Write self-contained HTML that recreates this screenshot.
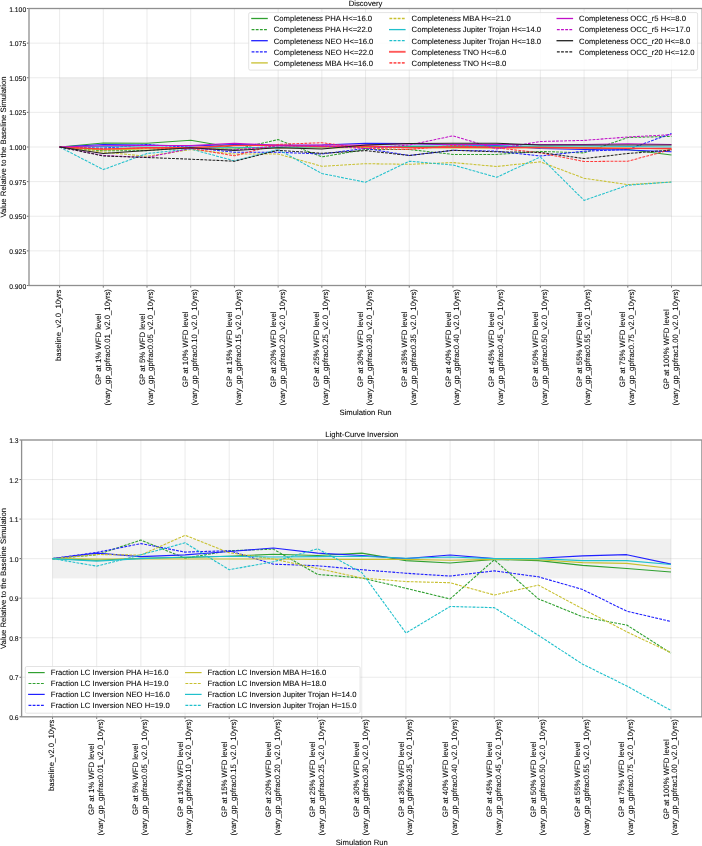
<!DOCTYPE html>
<html><head><meta charset="utf-8"><title>Discovery / Light-Curve Inversion</title>
<style>html,body{margin:0;padding:0;background:#fff;overflow:hidden;width:702px;height:846px;}svg{display:block;}text{stroke:#000;stroke-width:0.16px;stroke-opacity:0.4;text-rendering:geometricPrecision;}</style>
</head><body>
<svg width="702" height="846" viewBox="0 0 702 846" font-family="'Liberation Sans', Arial, Helvetica, sans-serif" fill="#000">
<rect width="702" height="846" fill="#fff"/>
<rect x="29.00" y="8.50" width="673.10" height="277.00" fill="#fff"/>
<rect x="59.60" y="77.75" width="611.91" height="138.50" fill="#f0f0f0"/>
<path d="M59.60 8.50V285.50M103.30 8.50V285.50M147.01 8.50V285.50M190.72 8.50V285.50M234.43 8.50V285.50M278.13 8.50V285.50M321.84 8.50V285.50M365.55 8.50V285.50M409.26 8.50V285.50M452.97 8.50V285.50M496.67 8.50V285.50M540.38 8.50V285.50M584.09 8.50V285.50M627.80 8.50V285.50M671.50 8.50V285.50M29.00 285.50H702.10M29.00 250.88H702.10M29.00 216.25H702.10M29.00 181.62H702.10M29.00 147.00H702.10M29.00 112.38H702.10M29.00 77.75H702.10M29.00 43.13H702.10M29.00 8.50H702.10" stroke="#a8a8a8" stroke-opacity="0.27" stroke-width="0.85" fill="none"/>
<g clip-path="url(#clip1)">
<polyline points="59.60,147.00 103.30,143.10 147.01,143.20 190.72,140.20 234.43,147.80 278.13,147.20 321.84,146.70 365.55,146.50 409.26,146.50 452.97,146.50 496.67,146.50 540.38,147.00 584.09,147.50 627.80,149.50 671.50,154.90" fill="none" stroke="#30a030" stroke-width="1.05" stroke-linejoin="round"/>
<polyline points="59.60,147.00 103.30,150.80 147.01,150.60 190.72,147.80 234.43,149.50 278.13,139.60 321.84,156.90 365.55,149.50 409.26,149.50 452.97,154.40 496.67,154.40 540.38,151.40 584.09,152.90 627.80,137.50 671.50,136.40" fill="none" stroke="#30a030" stroke-width="1.05" stroke-linejoin="round" stroke-dasharray="2.85,1.2"/>
<polyline points="59.60,147.00 103.30,144.40 147.01,145.00 190.72,146.00 234.43,144.40 278.13,145.20 321.84,145.00 365.55,143.20 409.26,143.50 452.97,145.00 496.67,145.50 540.38,148.40 584.09,149.50 627.80,150.00 671.50,151.80" fill="none" stroke="#2020ff" stroke-width="1.05" stroke-linejoin="round"/>
<polyline points="59.60,147.00 103.30,148.20 147.01,144.60 190.72,147.50 234.43,152.30 278.13,152.30 321.84,154.00 365.55,148.40 409.26,155.50 452.97,150.30 496.67,151.20 540.38,156.00 584.09,151.20 627.80,149.50 671.50,133.50" fill="none" stroke="#2020ff" stroke-width="1.05" stroke-linejoin="round" stroke-dasharray="2.85,1.2"/>
<polyline points="59.60,147.00 103.30,150.00 147.01,149.00 190.72,148.50 234.43,148.00 278.13,148.00 321.84,148.00 365.55,147.50 409.26,147.50 452.97,148.00 496.67,148.00 540.38,147.50 584.09,148.00 627.80,148.00 671.50,149.00" fill="none" stroke="#c8c030" stroke-width="1.05" stroke-linejoin="round"/>
<polyline points="59.60,147.00 103.30,152.10 147.01,156.30 190.72,149.60 234.43,154.00 278.13,154.00 321.84,166.30 365.55,163.70 409.26,164.30 452.97,162.60 496.67,166.50 540.38,161.80 584.09,178.30 627.80,184.60 671.50,182.00" fill="none" stroke="#c8c030" stroke-width="1.05" stroke-linejoin="round" stroke-dasharray="2.85,1.2"/>
<polyline points="59.60,147.00 103.30,146.50 147.01,147.00 190.72,147.50 234.43,147.80 278.13,147.20 321.84,146.70 365.55,146.50 409.26,146.00 452.97,146.00 496.67,146.00 540.38,146.00 584.09,146.00 627.80,146.50 671.50,147.00" fill="none" stroke="#20c0cc" stroke-width="1.05" stroke-linejoin="round"/>
<polyline points="59.60,147.00 103.30,169.60 147.01,153.50 190.72,149.00 234.43,160.90 278.13,149.50 321.84,173.50 365.55,182.30 409.26,161.20 452.97,165.00 496.67,177.30 540.38,157.00 584.09,200.40 627.80,185.20 671.50,182.00" fill="none" stroke="#20c0cc" stroke-width="1.05" stroke-linejoin="round" stroke-dasharray="2.85,1.2"/>
<polyline points="59.60,147.00 103.30,149.10 147.01,147.80 190.72,147.80 234.43,145.50 278.13,145.20 321.84,146.50 365.55,146.00 409.26,147.80 452.97,147.20 496.67,147.50 540.38,147.50 584.09,148.00 627.80,148.40 671.50,148.40" fill="none" stroke="#ff3a3a" stroke-width="1.45" stroke-linejoin="round"/>
<polyline points="59.60,147.00 103.30,149.00 147.01,148.00 190.72,148.40 234.43,155.80 278.13,144.40 321.84,142.70 365.55,148.40 409.26,149.50 452.97,145.50 496.67,147.80 540.38,152.90 584.09,161.50 627.80,161.20 671.50,149.50" fill="none" stroke="#ff3a3a" stroke-width="1.05" stroke-linejoin="round" stroke-dasharray="2.85,1.2"/>
<polyline points="59.60,147.00 103.30,145.70 147.01,145.50 190.72,145.50 234.43,143.20 278.13,145.20 321.84,145.00 365.55,145.00 409.26,143.80 452.97,144.50 496.67,144.50 540.38,144.40 584.09,144.40 627.80,143.80 671.50,144.50" fill="none" stroke="#c010c8" stroke-width="1.05" stroke-linejoin="round"/>
<polyline points="59.60,147.00 103.30,155.50 147.01,157.50 190.72,148.40 234.43,150.00 278.13,146.00 321.84,146.00 365.55,148.40 409.26,145.00 452.97,135.80 496.67,148.90 540.38,141.50 584.09,140.40 627.80,137.00 671.50,134.70" fill="none" stroke="#c010c8" stroke-width="1.05" stroke-linejoin="round" stroke-dasharray="2.85,1.2"/>
<polyline points="59.60,147.00 103.30,153.40 147.01,150.60 190.72,147.80 234.43,150.60 278.13,147.80 321.84,149.00 365.55,145.00 409.26,143.50 452.97,143.20 496.67,143.20 540.38,145.00 584.09,145.00 627.80,145.00 671.50,145.00" fill="none" stroke="#222222" stroke-width="1.05" stroke-linejoin="round"/>
<polyline points="59.60,147.00 103.30,156.00 147.01,157.50 190.72,159.20 234.43,161.20 278.13,150.30 321.84,153.30 365.55,150.60 409.26,155.50 452.97,150.30 496.67,151.80 540.38,152.40 584.09,158.60 627.80,153.50 671.50,150.00" fill="none" stroke="#222222" stroke-width="1.05" stroke-linejoin="round" stroke-dasharray="2.85,1.2"/>
</g>
<rect x="29.00" y="8.50" width="673.10" height="277.00" fill="none" stroke="#8f8f8f" stroke-width="1.3"/>
<path d="M59.60 286.10V287.60M103.30 286.10V287.60M147.01 286.10V287.60M190.72 286.10V287.60M234.43 286.10V287.60M278.13 286.10V287.60M321.84 286.10V287.60M365.55 286.10V287.60M409.26 286.10V287.60M452.97 286.10V287.60M496.67 286.10V287.60M540.38 286.10V287.60M584.09 286.10V287.60M627.80 286.10V287.60M671.50 286.10V287.60M28.40 285.50H26.90M28.40 250.88H26.90M28.40 216.25H26.90M28.40 181.62H26.90M28.40 147.00H26.90M28.40 112.38H26.90M28.40 77.75H26.90M28.40 43.13H26.90M28.40 8.50H26.90" stroke="#444" stroke-width="0.8" fill="none"/>
<text x="26.20" y="288.50" font-size="6.80" text-anchor="end">0.900</text>
<text x="26.20" y="253.88" font-size="6.80" text-anchor="end">0.925</text>
<text x="26.20" y="219.25" font-size="6.80" text-anchor="end">0.950</text>
<text x="26.20" y="184.62" font-size="6.80" text-anchor="end">0.975</text>
<text x="26.20" y="150.00" font-size="6.80" text-anchor="end">1.000</text>
<text x="26.20" y="115.38" font-size="6.80" text-anchor="end">1.025</text>
<text x="26.20" y="80.75" font-size="6.80" text-anchor="end">1.050</text>
<text x="26.20" y="46.13" font-size="6.80" text-anchor="end">1.075</text>
<text x="26.20" y="11.50" font-size="6.80" text-anchor="end">1.100</text>
<text transform="translate(60.80 325.27) rotate(-90)" font-size="7.80" text-anchor="middle">baseline_v2.0_10yrs</text>
<text transform="translate(100.90 349.32) rotate(-90)" font-size="7.80" text-anchor="middle">GP at 1% WFD level</text>
<text transform="translate(109.70 347.32) rotate(-90)" font-size="7.80" text-anchor="middle">(vary_gp_gpfrac0.01_v2.0_10yrs)</text>
<text transform="translate(144.61 349.32) rotate(-90)" font-size="7.80" text-anchor="middle">GP at 5% WFD level</text>
<text transform="translate(153.41 347.32) rotate(-90)" font-size="7.80" text-anchor="middle">(vary_gp_gpfrac0.05_v2.0_10yrs)</text>
<text transform="translate(188.32 349.32) rotate(-90)" font-size="7.80" text-anchor="middle">GP at 10% WFD level</text>
<text transform="translate(197.12 347.32) rotate(-90)" font-size="7.80" text-anchor="middle">(vary_gp_gpfrac0.10_v2.0_10yrs)</text>
<text transform="translate(232.03 349.32) rotate(-90)" font-size="7.80" text-anchor="middle">GP at 15% WFD level</text>
<text transform="translate(240.83 347.32) rotate(-90)" font-size="7.80" text-anchor="middle">(vary_gp_gpfrac0.15_v2.0_10yrs)</text>
<text transform="translate(275.73 349.32) rotate(-90)" font-size="7.80" text-anchor="middle">GP at 20% WFD level</text>
<text transform="translate(284.53 347.32) rotate(-90)" font-size="7.80" text-anchor="middle">(vary_gp_gpfrac0.20_v2.0_10yrs)</text>
<text transform="translate(319.44 349.32) rotate(-90)" font-size="7.80" text-anchor="middle">GP at 25% WFD level</text>
<text transform="translate(328.24 347.32) rotate(-90)" font-size="7.80" text-anchor="middle">(vary_gp_gpfrac0.25_v2.0_10yrs)</text>
<text transform="translate(363.15 349.32) rotate(-90)" font-size="7.80" text-anchor="middle">GP at 30% WFD level</text>
<text transform="translate(371.95 347.32) rotate(-90)" font-size="7.80" text-anchor="middle">(vary_gp_gpfrac0.30_v2.0_10yrs)</text>
<text transform="translate(406.86 349.32) rotate(-90)" font-size="7.80" text-anchor="middle">GP at 35% WFD level</text>
<text transform="translate(415.66 347.32) rotate(-90)" font-size="7.80" text-anchor="middle">(vary_gp_gpfrac0.35_v2.0_10yrs)</text>
<text transform="translate(450.57 349.32) rotate(-90)" font-size="7.80" text-anchor="middle">GP at 40% WFD level</text>
<text transform="translate(459.37 347.32) rotate(-90)" font-size="7.80" text-anchor="middle">(vary_gp_gpfrac0.40_v2.0_10yrs)</text>
<text transform="translate(494.27 349.32) rotate(-90)" font-size="7.80" text-anchor="middle">GP at 45% WFD level</text>
<text transform="translate(503.07 347.32) rotate(-90)" font-size="7.80" text-anchor="middle">(vary_gp_gpfrac0.45_v2.0_10yrs)</text>
<text transform="translate(537.98 349.32) rotate(-90)" font-size="7.80" text-anchor="middle">GP at 50% WFD level</text>
<text transform="translate(546.78 347.32) rotate(-90)" font-size="7.80" text-anchor="middle">(vary_gp_gpfrac0.50_v2.0_10yrs)</text>
<text transform="translate(581.69 349.32) rotate(-90)" font-size="7.80" text-anchor="middle">GP at 55% WFD level</text>
<text transform="translate(590.49 347.32) rotate(-90)" font-size="7.80" text-anchor="middle">(vary_gp_gpfrac0.55_v2.0_10yrs)</text>
<text transform="translate(625.40 349.32) rotate(-90)" font-size="7.80" text-anchor="middle">GP at 75% WFD level</text>
<text transform="translate(634.20 347.32) rotate(-90)" font-size="7.80" text-anchor="middle">(vary_gp_gpfrac0.75_v2.0_10yrs)</text>
<text transform="translate(669.10 349.32) rotate(-90)" font-size="7.80" text-anchor="middle">GP at 100% WFD level</text>
<text transform="translate(677.90 347.32) rotate(-90)" font-size="7.80" text-anchor="middle">(vary_gp_gpfrac1.00_v2.0_10yrs)</text>
<rect x="248.70" y="12.60" width="448.90" height="57.50" rx="1.5" ry="1.5" fill="#fff" fill-opacity="0.8" stroke="#dcdcdc" stroke-width="0.8"/>
<path d="M251.20 18.50H267.80" stroke="#30a030" stroke-width="1.30"/>
<text x="273.80" y="21.30" font-size="7.70">Completeness PHA H&lt;=16.0</text>
<path d="M251.60 29.60H266.90" stroke="#30a030" stroke-width="1.30" stroke-dasharray="2.85,1.3"/>
<text x="273.80" y="32.40" font-size="7.70">Completeness PHA H&lt;=22.0</text>
<path d="M251.20 40.70H267.80" stroke="#2020ff" stroke-width="1.30"/>
<text x="273.80" y="43.50" font-size="7.70">Completeness NEO H&lt;=16.0</text>
<path d="M251.60 51.80H266.90" stroke="#2020ff" stroke-width="1.30" stroke-dasharray="2.85,1.3"/>
<text x="273.80" y="54.60" font-size="7.70">Completeness NEO H&lt;=22.0</text>
<path d="M251.20 62.90H267.80" stroke="#c8c030" stroke-width="1.30"/>
<text x="273.80" y="65.70" font-size="7.70">Completeness MBA H&lt;=16.0</text>
<path d="M389.40 18.50H404.70" stroke="#c8c030" stroke-width="1.30" stroke-dasharray="2.85,1.3"/>
<text x="411.60" y="21.30" font-size="7.70">Completeness MBA H&lt;=21.0</text>
<path d="M389.00 29.60H405.60" stroke="#20c0cc" stroke-width="1.30"/>
<text x="411.60" y="32.40" font-size="7.70">Completeness Jupiter Trojan H&lt;=14.0</text>
<path d="M389.40 40.70H404.70" stroke="#20c0cc" stroke-width="1.30" stroke-dasharray="2.85,1.3"/>
<text x="411.60" y="43.50" font-size="7.70">Completeness Jupiter Trojan H&lt;=18.0</text>
<path d="M389.00 51.80H405.60" stroke="#ff5a5a" stroke-width="1.90"/>
<text x="411.60" y="54.60" font-size="7.70">Completeness TNO H&lt;=6.0</text>
<path d="M389.40 62.90H404.70" stroke="#ff5a5a" stroke-width="1.90" stroke-dasharray="2.85,1.3"/>
<text x="411.60" y="65.70" font-size="7.70">Completeness TNO H&lt;=8.0</text>
<path d="M556.50 18.50H573.10" stroke="#c010c8" stroke-width="1.30"/>
<text x="579.10" y="21.30" font-size="7.70">Completeness OCC_r5 H&lt;=8.0</text>
<path d="M556.90 29.60H572.20" stroke="#c010c8" stroke-width="1.30" stroke-dasharray="2.85,1.3"/>
<text x="579.10" y="32.40" font-size="7.70">Completeness OCC_r5 H&lt;=17.0</text>
<path d="M556.50 40.70H573.10" stroke="#222222" stroke-width="1.30"/>
<text x="579.10" y="43.50" font-size="7.70">Completeness OCC_r20 H&lt;=8.0</text>
<path d="M556.90 51.80H572.20" stroke="#222222" stroke-width="1.30" stroke-dasharray="2.85,1.3"/>
<text x="579.10" y="54.60" font-size="7.70">Completeness OCC_r20 H&lt;=12.0</text>
<text x="365.55" y="5.6" font-size="7.70" text-anchor="middle">Discovery</text>
<text x="365.55" y="415.0" font-size="7.70" text-anchor="middle">Simulation Run</text>
<text transform="translate(5.9 147.00) rotate(-90)" font-size="7.75" text-anchor="middle">Value Relative to the Baseline Simulation</text>
<rect x="21.60" y="440.00" width="680.30" height="276.80" fill="#fff"/>
<rect x="52.52" y="538.86" width="618.45" height="39.54" fill="#f0f0f0"/>
<path d="M52.52 440.00V716.80M96.70 440.00V716.80M140.87 440.00V716.80M185.05 440.00V716.80M229.22 440.00V716.80M273.40 440.00V716.80M317.57 440.00V716.80M361.75 440.00V716.80M405.93 440.00V716.80M450.10 440.00V716.80M494.28 440.00V716.80M538.45 440.00V716.80M582.63 440.00V716.80M626.80 440.00V716.80M670.98 440.00V716.80M21.60 716.80H701.90M21.60 677.26H701.90M21.60 637.71H701.90M21.60 598.17H701.90M21.60 558.63H701.90M21.60 519.09H701.90M21.60 479.54H701.90M21.60 440.00H701.90" stroke="#a8a8a8" stroke-opacity="0.27" stroke-width="0.85" fill="none"/>
<polyline points="52.52,558.63 96.70,560.21 140.87,558.23 185.05,557.44 229.22,556.26 273.40,554.28 317.57,555.47 361.75,553.09 405.93,560.61 450.10,562.98 494.28,559.42 538.45,560.61 582.63,565.35 626.80,568.51 670.98,572.07" fill="none" stroke="#30a030" stroke-width="1.10" stroke-linejoin="round"/>
<polyline points="52.52,558.63 96.70,554.83 140.87,540.04 185.05,558.23 229.22,550.72 273.40,549.14 317.57,574.45 361.75,578.00 405.93,588.29 450.10,598.96 494.28,559.81 538.45,598.96 582.63,616.76 626.80,625.06 670.98,653.14" fill="none" stroke="#30a030" stroke-width="1.10" stroke-linejoin="round" stroke-dasharray="2.85,1.2"/>
<polyline points="52.52,558.63 96.70,553.09 140.87,556.65 185.05,554.83 229.22,551.51 273.40,547.95 317.57,553.09 361.75,555.47 405.93,558.63 450.10,555.07 494.28,558.63 538.45,558.23 582.63,555.86 626.80,554.67 670.98,564.16" fill="none" stroke="#2020ff" stroke-width="1.10" stroke-linejoin="round"/>
<polyline points="52.52,558.63 96.70,552.42 140.87,543.60 185.05,552.10 229.22,550.72 273.40,564.16 317.57,565.75 361.75,569.70 405.93,573.26 450.10,576.03 494.28,570.89 538.45,576.82 582.63,589.47 626.80,611.22 670.98,621.50" fill="none" stroke="#2020ff" stroke-width="1.10" stroke-linejoin="round" stroke-dasharray="2.85,1.2"/>
<polyline points="52.52,558.63 96.70,559.02 140.87,559.02 185.05,559.02 229.22,559.02 273.40,559.02 317.57,559.42 361.75,559.42 405.93,559.42 450.10,560.21 494.28,559.42 538.45,559.81 582.63,562.58 626.80,563.37 670.98,568.51" fill="none" stroke="#c8c030" stroke-width="1.10" stroke-linejoin="round"/>
<polyline points="52.52,558.63 96.70,554.52 140.87,555.07 185.05,535.30 229.22,552.70 273.40,559.02 317.57,568.51 361.75,578.00 405.93,581.56 450.10,582.75 494.28,595.01 538.45,585.12 582.63,608.85 626.80,631.78 670.98,652.74" fill="none" stroke="#c8c030" stroke-width="1.10" stroke-linejoin="round" stroke-dasharray="2.85,1.2"/>
<polyline points="52.52,558.63 96.70,561.12 140.87,558.63 185.05,557.05 229.22,556.26 273.40,557.05 317.57,556.65 361.75,556.26 405.93,558.23 450.10,557.05 494.28,558.63 538.45,558.63 582.63,560.61 626.80,560.61 670.98,564.56" fill="none" stroke="#20c0cc" stroke-width="1.10" stroke-linejoin="round"/>
<polyline points="52.52,558.63 96.70,566.14 140.87,554.83 185.05,542.81 229.22,569.70 273.40,561.79 317.57,548.74 361.75,572.47 405.93,632.97 450.10,606.48 494.28,607.66 538.45,635.34 582.63,664.21 626.80,685.96 670.98,710.47" fill="none" stroke="#20c0cc" stroke-width="1.10" stroke-linejoin="round" stroke-dasharray="2.85,1.2"/>
<rect x="21.60" y="440.00" width="680.30" height="276.80" fill="none" stroke="#8f8f8f" stroke-width="1.3"/>
<path d="M52.52 717.40V718.90M96.70 717.40V718.90M140.87 717.40V718.90M185.05 717.40V718.90M229.22 717.40V718.90M273.40 717.40V718.90M317.57 717.40V718.90M361.75 717.40V718.90M405.93 717.40V718.90M450.10 717.40V718.90M494.28 717.40V718.90M538.45 717.40V718.90M582.63 717.40V718.90M626.80 717.40V718.90M670.98 717.40V718.90M21.00 716.80H19.50M21.00 677.26H19.50M21.00 637.71H19.50M21.00 598.17H19.50M21.00 558.63H19.50M21.00 519.09H19.50M21.00 479.54H19.50M21.00 440.00H19.50" stroke="#444" stroke-width="0.8" fill="none"/>
<text x="18.60" y="719.80" font-size="6.80" text-anchor="end">0.6</text>
<text x="18.60" y="680.26" font-size="6.80" text-anchor="end">0.7</text>
<text x="18.60" y="640.71" font-size="6.80" text-anchor="end">0.8</text>
<text x="18.60" y="601.17" font-size="6.80" text-anchor="end">0.9</text>
<text x="18.60" y="561.63" font-size="6.80" text-anchor="end">1.0</text>
<text x="18.60" y="522.09" font-size="6.80" text-anchor="end">1.1</text>
<text x="18.60" y="482.54" font-size="6.80" text-anchor="end">1.2</text>
<text x="18.60" y="443.00" font-size="6.80" text-anchor="end">1.3</text>
<text transform="translate(53.72 755.27) rotate(-90)" font-size="7.80" text-anchor="middle">baseline_v2.0_10yrs</text>
<text transform="translate(94.30 779.32) rotate(-90)" font-size="7.80" text-anchor="middle">GP at 1% WFD level</text>
<text transform="translate(103.10 777.32) rotate(-90)" font-size="7.80" text-anchor="middle">(vary_gp_gpfrac0.01_v2.0_10yrs)</text>
<text transform="translate(138.47 779.32) rotate(-90)" font-size="7.80" text-anchor="middle">GP at 5% WFD level</text>
<text transform="translate(147.27 777.32) rotate(-90)" font-size="7.80" text-anchor="middle">(vary_gp_gpfrac0.05_v2.0_10yrs)</text>
<text transform="translate(182.65 779.32) rotate(-90)" font-size="7.80" text-anchor="middle">GP at 10% WFD level</text>
<text transform="translate(191.45 777.32) rotate(-90)" font-size="7.80" text-anchor="middle">(vary_gp_gpfrac0.10_v2.0_10yrs)</text>
<text transform="translate(226.82 779.32) rotate(-90)" font-size="7.80" text-anchor="middle">GP at 15% WFD level</text>
<text transform="translate(235.62 777.32) rotate(-90)" font-size="7.80" text-anchor="middle">(vary_gp_gpfrac0.15_v2.0_10yrs)</text>
<text transform="translate(271.00 779.32) rotate(-90)" font-size="7.80" text-anchor="middle">GP at 20% WFD level</text>
<text transform="translate(279.80 777.32) rotate(-90)" font-size="7.80" text-anchor="middle">(vary_gp_gpfrac0.20_v2.0_10yrs)</text>
<text transform="translate(315.17 779.32) rotate(-90)" font-size="7.80" text-anchor="middle">GP at 25% WFD level</text>
<text transform="translate(323.97 777.32) rotate(-90)" font-size="7.80" text-anchor="middle">(vary_gp_gpfrac0.25_v2.0_10yrs)</text>
<text transform="translate(359.35 779.32) rotate(-90)" font-size="7.80" text-anchor="middle">GP at 30% WFD level</text>
<text transform="translate(368.15 777.32) rotate(-90)" font-size="7.80" text-anchor="middle">(vary_gp_gpfrac0.30_v2.0_10yrs)</text>
<text transform="translate(403.53 779.32) rotate(-90)" font-size="7.80" text-anchor="middle">GP at 35% WFD level</text>
<text transform="translate(412.33 777.32) rotate(-90)" font-size="7.80" text-anchor="middle">(vary_gp_gpfrac0.35_v2.0_10yrs)</text>
<text transform="translate(447.70 779.32) rotate(-90)" font-size="7.80" text-anchor="middle">GP at 40% WFD level</text>
<text transform="translate(456.50 777.32) rotate(-90)" font-size="7.80" text-anchor="middle">(vary_gp_gpfrac0.40_v2.0_10yrs)</text>
<text transform="translate(491.88 779.32) rotate(-90)" font-size="7.80" text-anchor="middle">GP at 45% WFD level</text>
<text transform="translate(500.68 777.32) rotate(-90)" font-size="7.80" text-anchor="middle">(vary_gp_gpfrac0.45_v2.0_10yrs)</text>
<text transform="translate(536.05 779.32) rotate(-90)" font-size="7.80" text-anchor="middle">GP at 50% WFD level</text>
<text transform="translate(544.85 777.32) rotate(-90)" font-size="7.80" text-anchor="middle">(vary_gp_gpfrac0.50_v2.0_10yrs)</text>
<text transform="translate(580.23 779.32) rotate(-90)" font-size="7.80" text-anchor="middle">GP at 55% WFD level</text>
<text transform="translate(589.03 777.32) rotate(-90)" font-size="7.80" text-anchor="middle">(vary_gp_gpfrac0.55_v2.0_10yrs)</text>
<text transform="translate(624.40 779.32) rotate(-90)" font-size="7.80" text-anchor="middle">GP at 75% WFD level</text>
<text transform="translate(633.20 777.32) rotate(-90)" font-size="7.80" text-anchor="middle">(vary_gp_gpfrac0.75_v2.0_10yrs)</text>
<text transform="translate(668.58 779.32) rotate(-90)" font-size="7.80" text-anchor="middle">GP at 100% WFD level</text>
<text transform="translate(677.38 777.32) rotate(-90)" font-size="7.80" text-anchor="middle">(vary_gp_gpfrac1.00_v2.0_10yrs)</text>
<rect x="25.30" y="666.50" width="334.80" height="46.70" rx="1.5" ry="1.5" fill="#fff" fill-opacity="0.8" stroke="#dcdcdc" stroke-width="0.8"/>
<path d="M28.10 672.60H44.70" stroke="#30a030" stroke-width="1.20"/>
<text x="50.70" y="675.40" font-size="7.70">Fraction LC Inversion PHA H=16.0</text>
<path d="M28.50 683.50H43.80" stroke="#30a030" stroke-width="1.20" stroke-dasharray="2.85,1.3"/>
<text x="50.70" y="686.30" font-size="7.70">Fraction LC Inversion PHA H=19.0</text>
<path d="M28.10 694.40H44.70" stroke="#2020ff" stroke-width="1.20"/>
<text x="50.70" y="697.20" font-size="7.70">Fraction LC Inversion NEO H=16.0</text>
<path d="M28.50 705.30H43.80" stroke="#2020ff" stroke-width="1.20" stroke-dasharray="2.85,1.3"/>
<text x="50.70" y="708.10" font-size="7.70">Fraction LC Inversion NEO H=19.0</text>
<path d="M185.00 672.60H201.60" stroke="#c8c030" stroke-width="1.20"/>
<text x="207.60" y="675.40" font-size="7.70">Fraction LC Inversion MBA H=16.0</text>
<path d="M185.40 683.50H200.70" stroke="#c8c030" stroke-width="1.20" stroke-dasharray="2.85,1.3"/>
<text x="207.60" y="686.30" font-size="7.70">Fraction LC Inversion MBA H=18.0</text>
<path d="M185.00 694.40H201.60" stroke="#20c0cc" stroke-width="1.20"/>
<text x="207.60" y="697.20" font-size="7.70">Fraction LC Inversion Jupiter Trojan H=14.0</text>
<path d="M185.40 705.30H200.70" stroke="#20c0cc" stroke-width="1.20" stroke-dasharray="2.85,1.3"/>
<text x="207.60" y="708.10" font-size="7.70">Fraction LC Inversion Jupiter Trojan H=15.0</text>
<text x="361.75" y="436.9" font-size="7.70" text-anchor="middle">Light-Curve Inversion</text>
<text x="361.75" y="845.3" font-size="7.70" text-anchor="middle">Simulation Run</text>
<text transform="translate(5.9 578.40) rotate(-90)" font-size="7.75" text-anchor="middle">Value Relative to the Baseline Simulation</text>
<defs><clipPath id="clip1"><rect x="29.00" y="8.50" width="673.10" height="277.00"/></clipPath></defs>
</svg>
</body></html>
